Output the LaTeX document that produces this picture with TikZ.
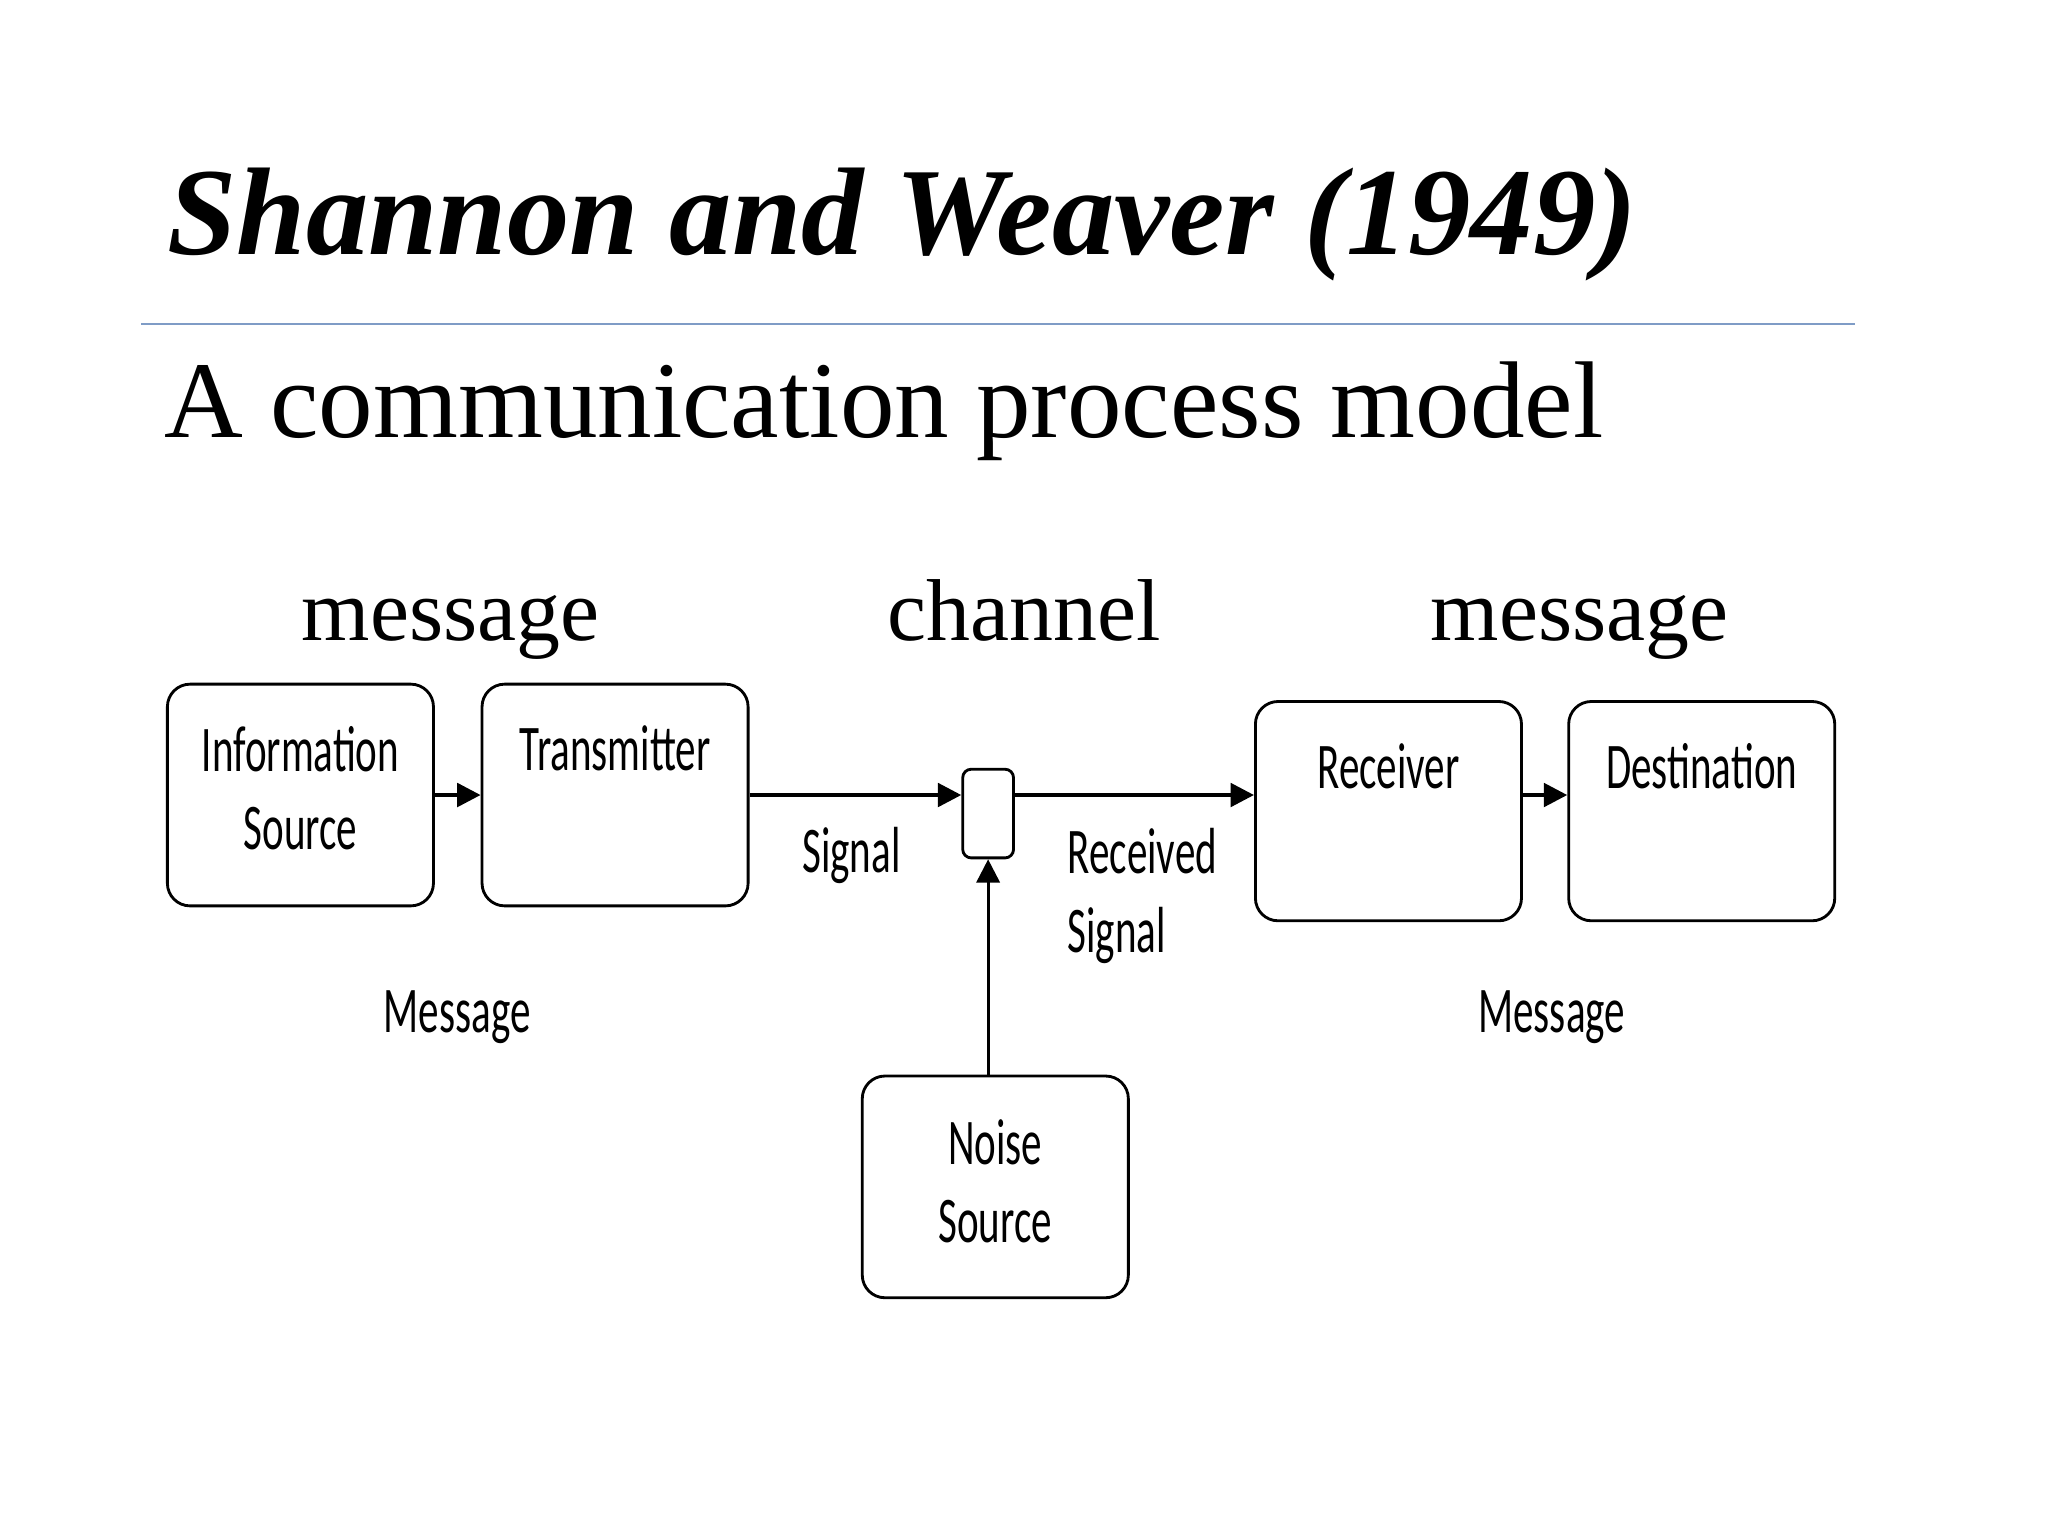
\documentclass[tikz,border=0pt]{standalone}
\usepackage{fontspec}
\setmainfont{Liberation Serif}
\newfontfamily\diagfont[FakeStretch=0.63]{Carlito}
\usepackage{tikz}
\usetikzlibrary{arrows.meta,positioning}
\definecolor{rulecol}{HTML}{7F9CC6}
\tikzset{
  bloc/.style={draw,rounded corners=8pt,line width=1pt,minimum width=3.3cm,
    minimum height=2.75cm,inner sep=0pt},
  mixbox/.style={draw,rounded corners=3pt,line width=1pt,minimum width=0.63cm,
    minimum height=1.1cm,inner sep=0pt},
  intxt/.style={font=\diagfont\fontsize{23}{27.6}\selectfont,align=center,inner sep=0pt},
  lbl/.style={font=\diagfont\fontsize{23}{27.6}\selectfont,inner sep=0pt},
  word/.style={font=\fontsize{31}{36}\selectfont,inner sep=0pt,anchor=base},
  fl/.style={-{Triangle[length=2.9mm,width=2.9mm]},line width=1.4pt},
}
\begin{document}
\begin{tikzpicture}
  \useasboundingbox[fill=white] (0,0) rectangle (25.4,-19.05);
  % titles
  \node[anchor=base west,inner sep=0pt,font=\fontsize{44}{50}\selectfont\bfseries\itshape]
    (title) at (2.07,-3.16) {Shannon and Weaver (1949)};
  \draw[rulecol,line width=0.6pt] (1.75,-4.02) -- (23.0,-4.02);
  \node[anchor=base west,inner sep=0pt,font=\fontsize{38.5}{44}\selectfont]
    (sub) at (2.03,-5.43) {A communication process model};
  \node[word] (msgl) at (5.59,-7.94) {message};
  \node[word] (chan) at (12.70,-7.94) {channel};
  \node[word] (msgr) at (19.59,-7.94) {message};
  % blocks
  \node[bloc] (src) at (3.726,-9.86) {};
  \node[bloc,right=0.567cm of src] (trans) {};
  \node[mixbox] (mix) at (12.255,-10.09) {};
  \node[bloc,minimum height=2.72cm] (rec) at (17.22,-10.06) {};
  \node[bloc,minimum height=2.72cm,right=0.55cm of rec] (dest) {};
  \node[bloc] (noise) at (12.344,-14.72) {};
  \node[intxt,below=0.53cm of src.north] (srct) {Information\\Source};
  \node[intxt,below=0.53cm of trans.north] (transt) {Transmitter};
  \node[intxt,below=0.53cm of rec.north] (rect) {Receiver};
  \node[intxt,below=0.53cm of dest.north] (destt) {Destination};
  \node[intxt,below=0.55cm of noise.north] (noiset) {Noise\\Source};
  % links
  \draw[fl] (src.east) -- (trans.west);
  \draw[fl] (trans.east) -- (trans.east -| mix.west);
  \draw[fl] (mix.east |- trans.east) -- (rec.west |- trans.east);
  \draw[fl] (rec.east |- trans.east) -- (dest.west |- trans.east);
  \draw[fl,line width=1pt] (noise.north -| mix.south) -- (mix.south);
  % labels
  \node[lbl,anchor=base] (sig) at (10.56,-10.82) {Signal};
  \node[lbl,align=left,anchor=north west] (rsig) at (13.235,-10.27) {Received\\Signal};
  \node[lbl,anchor=base] (msgbl) at (5.67,-12.80) {Message};
  \node[lbl,anchor=base] (msgbr) at (19.245,-12.80) {Message};
\end{tikzpicture}
\end{document}
